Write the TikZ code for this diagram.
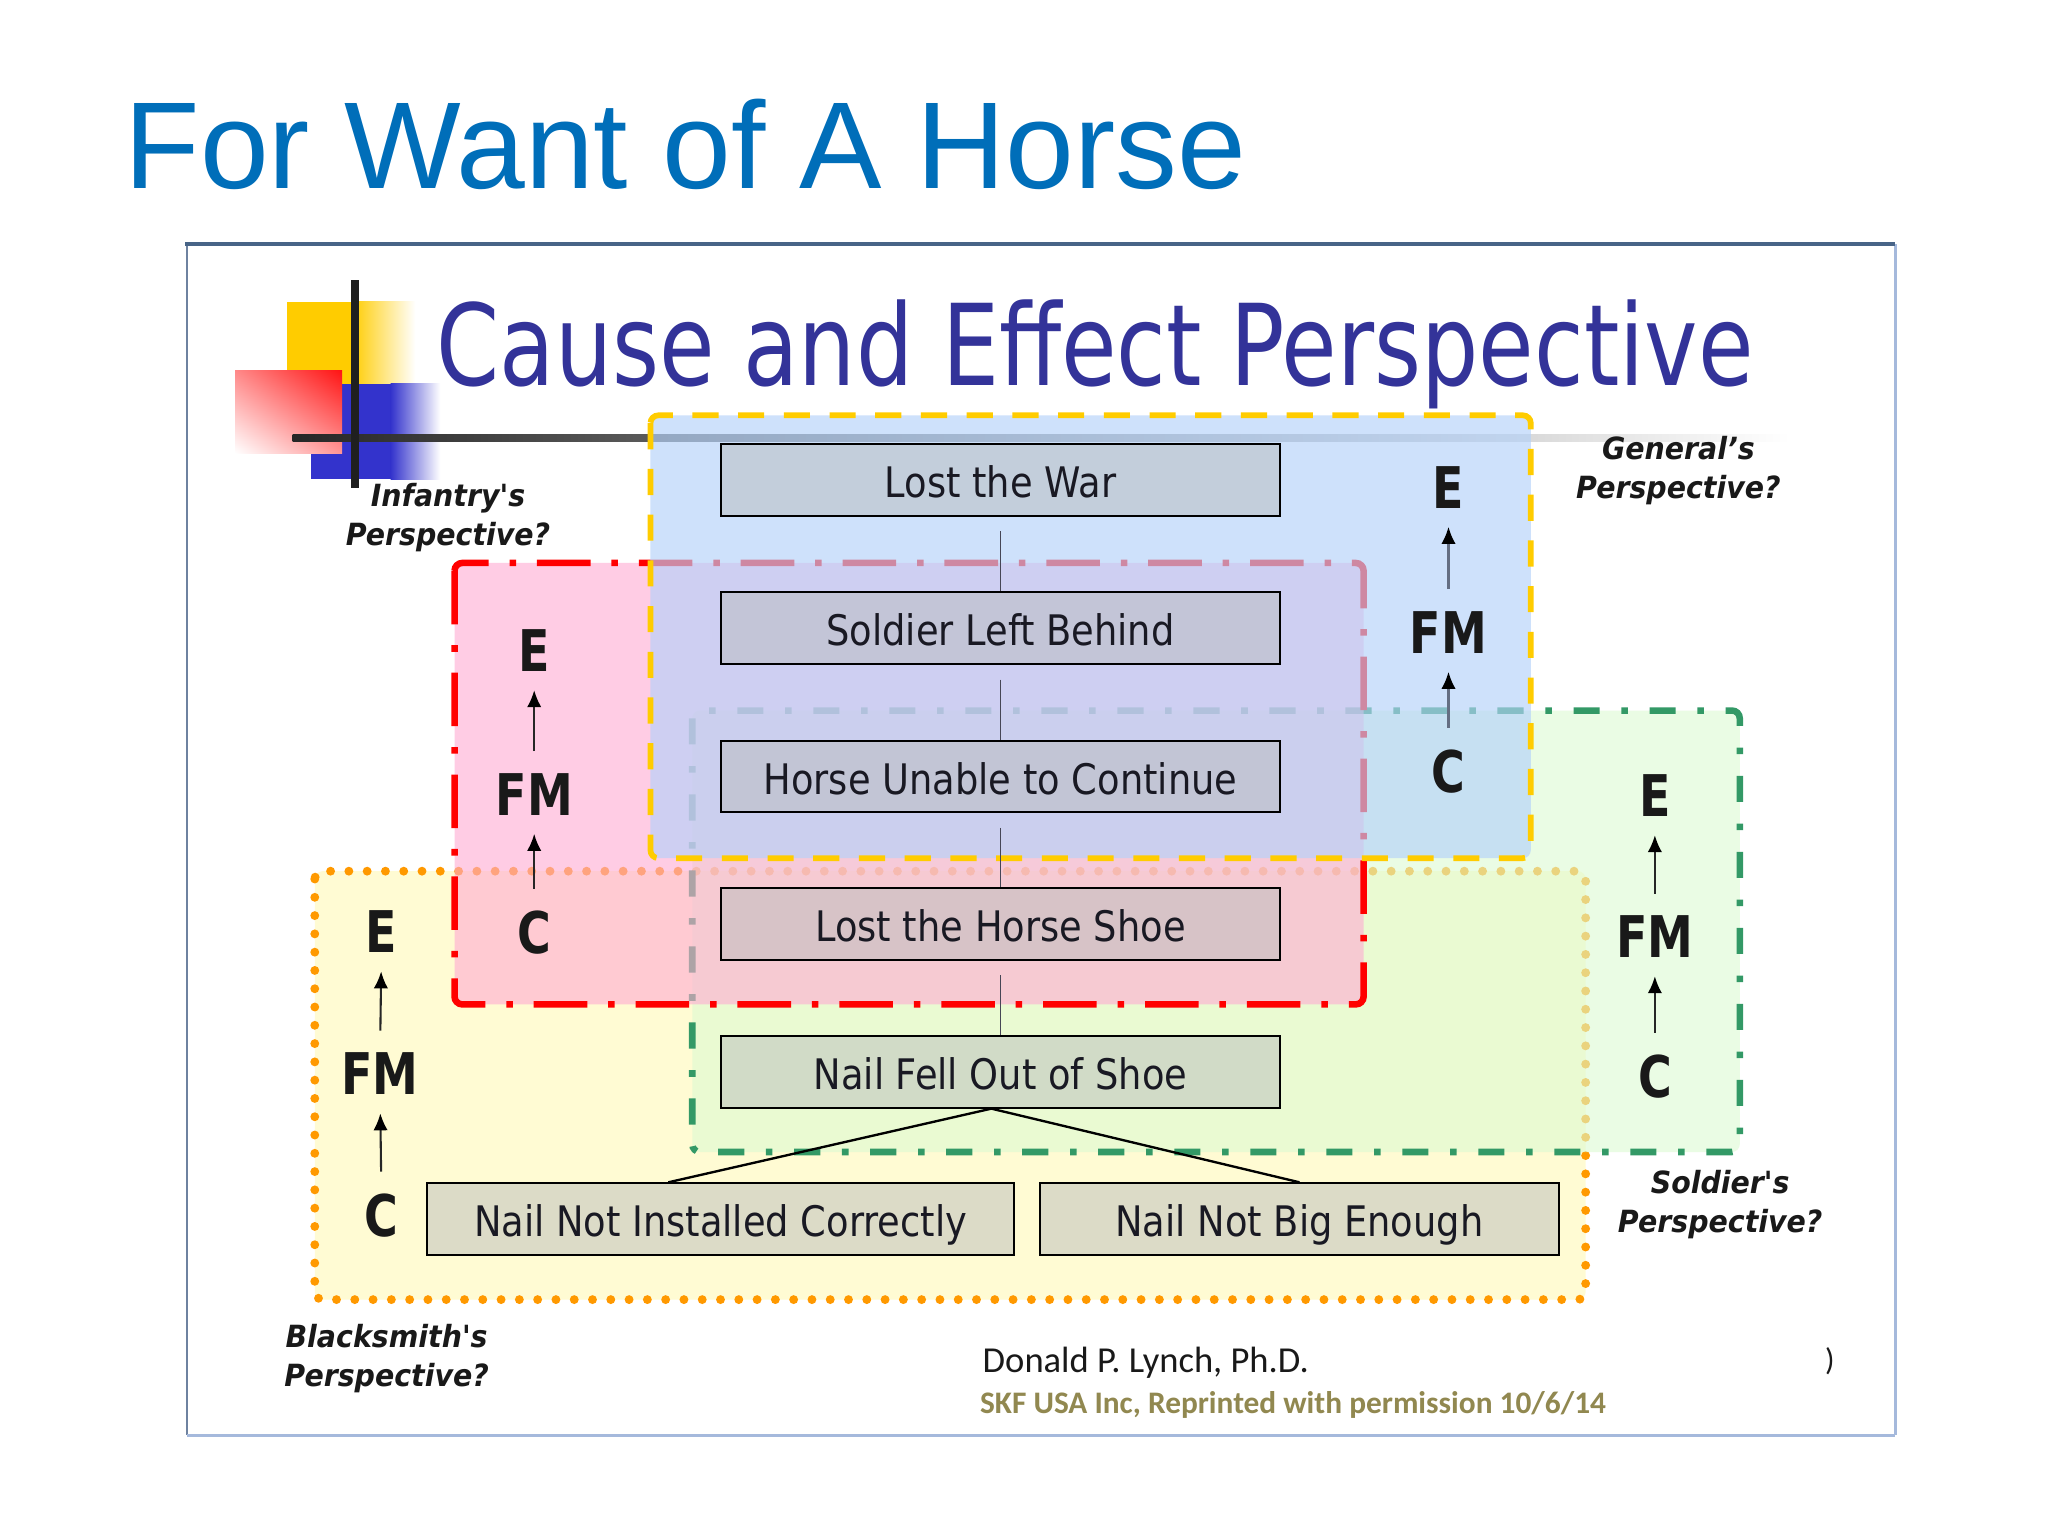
\documentclass[tikz,border=0pt]{standalone}
\usepackage{fontspec}
\usetikzlibrary{arrows.meta,calc,shadings}
\newfontfamily\titlefont{Liberation Sans}
\newfontfamily\subfont[FakeStretch=0.80]{DejaVu Sans}
\newfontfamily\boxfont[FakeStretch=0.875]{DejaVu Sans}
\newfontfamily\letfont[FakeStretch=0.80]{DejaVu Sans}
\newfontfamily\perfont[Ligatures=TeXOff,FakeStretch=0.93]{DejaVu Sans}
\newfontfamily\calfont{Carlito}
\definecolor{titleblue}{RGB}{0,110,185}
\definecolor{subblue}{RGB}{51,51,153}
\definecolor{logoY}{RGB}{255,204,0}
\definecolor{logoR}{RGB}{255,20,20}
\definecolor{logoB}{RGB}{51,51,204}
\definecolor{regYb}{RGB}{255,204,0}
\definecolor{regYf}{RGB}{180,210,250}
\definecolor{regRb}{RGB}{255,0,0}
\definecolor{regRf}{RGB}{255,170,210}
\definecolor{regGb}{RGB}{51,153,102}
\definecolor{regGf}{RGB}{220,250,210}
\definecolor{regOb}{RGB}{255,153,0}
\definecolor{regOf}{RGB}{255,250,200}
\definecolor{boxgrey}{RGB}{186,189,189}
\definecolor{boxtext}{RGB}{25,25,35}
\definecolor{linkc}{RGB}{70,70,85}
\definecolor{genarrow}{RGB}{100,110,130}
\definecolor{frametop}{RGB}{72,100,135}
\definecolor{frameleft}{RGB}{110,130,160}
\definecolor{frameside}{RGB}{165,185,220}
\definecolor{olive}{RGB}{145,136,80}
\tikzset{
  cebox/.style={draw=black, line width=0.8pt, fill=boxgrey, fill opacity=0.5, text opacity=1,
    minimum width=214pt, minimum height=27.5pt, inner sep=0pt, text height=16pt, text depth=2.5pt,
    font=\boxfont\fontsize{16.1pt}{18pt}\selectfont, text=boxtext},
  letter/.style={inner sep=0pt, anchor=base, font=\letfont\bfseries\fontsize{22pt}{24pt}\selectfont, text=black!90},
  efarrow/.style={-{Latex[length=6.5pt,width=5.5pt,color=black]}, draw=black!85, line width=0.8pt,
    shorten >=7pt, shorten <=8.2pt},
  genefarrow/.style={efarrow, draw=genarrow},
  link/.style={draw=linkc, line width=0.6pt, shorten <=5.5pt},
  diag/.style={draw=black, line width=0.9pt},
  persp/.style={align=center, inner sep=0pt, font=\perfont\bfseries\itshape\fontsize{11.7pt}{15pt}\selectfont, text=black!90},
  region/.style={rounded corners=3pt}
}
\begin{document}
\begin{tikzpicture}[x=0.5pt,y=-0.5pt]
\useasboundingbox (0,0) rectangle (1568,1176);
\fill[white] (0,0) rectangle (1568,1176);

% logo
\fill[logoY] (220,231) rectangle (270,295);
\shade[left color=logoY, right color=white] (269,231) rectangle (318,295);
\fill[logoB] (238,294) rectangle (300,367);
\shade[left color=logoB, right color=white] (299,294) rectangle (337,367);
\shade[upper right=logoR, upper left=logoR!50, lower right=logoR!45, lower left=white] (180,284) rectangle (262,347);
\shade[left color=black!85, middle color=black!40, right color=white] (224,332.8) rectangle (1370,338.3);
\fill[black!88] (269,214) rectangle (275,374);

% perspective regions (bottom to top)
\path[region, draw=regOb, line width=3.4pt, line cap=round, dash pattern=on 0pt off 7pt,
  fill=regOf, fill opacity=0.8] (241,667) rectangle (1214,995);
\path[region, draw=regGb, line width=2.5pt, dash pattern=on 10pt off 8.3pt on 2.5pt off 8.3pt,
  fill=regGf, fill opacity=0.6] (530,544) rectangle (1332,882);
\path[region, draw=regRb, line width=2.5pt, dash pattern=on 20.5pt off 8pt on 2.5pt off 8pt,
  fill=regRf, fill opacity=0.6] (348,431) rectangle (1044,769);
\path[region, draw=regYb, line width=2.2pt, dash pattern=on 10pt off 7.5pt,
  fill=regYf, fill opacity=0.65] (498,318) rectangle (1172,657);

% boxes
\node[cebox] (lw)  at (766,367.5) {Lost the War};
\node[cebox] (slb) at (766,481) {Soldier Left Behind};
\node[cebox] (hu)  at (766,594.5) {Horse Unable to Continue};
\node[cebox] (lhs) at (766,707.5) {Lost the Horse Shoe};
\node[cebox] (nfo) at (766,820.5) {Nail Fell Out of Shoe};
\node[cebox, minimum width=224.5pt] (nni) at (551.7,933.5) {Nail Not Installed Correctly};
\node[cebox, minimum width=199pt] (nbe) at (994.9,933.5) {Nail Not Big Enough};

% connectors
\draw[link] (lw.south) -- (slb.north);
\draw[link] (slb.south) -- (hu.north);
\draw[link] (hu.south) -- (lhs.north);
\draw[link] (lhs.south) -- (nfo.north);
\draw[diag] ([xshift=-3.5pt]nfo.south) -- ([xshift=-20pt]nni.north);
\draw[diag] ([xshift=-3.5pt]nfo.south) -- (nbe.north);

% General column
\node[letter] (gE)  at (1109,389) {E};
\node[letter] (gFM) at (1109,500) {FM};
\node[letter] (gC)  at (1109,606.5) {C};
\draw[genefarrow] (gFM.north) -- (gE.south);
\draw[genefarrow] (gC.north) -- (gFM.south);
% Infantry column
\node[letter] (iE)  at (409,514) {E};
\node[letter] (iFM) at (409,624) {FM};
\node[letter] (iC)  at (409,730) {C};
\draw[efarrow] (iFM.north) -- (iE.south);
\draw[efarrow] (iC.north) -- (iFM.south);
% Blacksmith column
\node[letter] (bE)  at (292,729.3) {E};
\node[letter] (bFM) at (291,838) {FM};
\node[letter] (bC)  at (292,946.5) {C};
\draw[efarrow] (bFM.north) -- (bE.south);
\draw[efarrow] (bC.north) -- (bFM.south);
% Soldier column
\node[letter] (sE)  at (1267,625) {E};
\node[letter] (sFM) at (1267,733) {FM};
\node[letter] (sC)  at (1267,840) {C};
\draw[efarrow] (sFM.north) -- (sE.south);
\draw[efarrow] (sC.north) -- (sFM.south);

% perspective labels
\node[persp] (pinf) at (343,396.5) {Infantry's\\Perspective?};
\node[persp] (pgen) at (1285,360.5) {General’s\\Perspective?};
\node[persp] (psol) at (1317,922.2) {Soldier's\\Perspective?};
\node[persp] (pbla) at (296,1040.3) {Blacksmith's\\Perspective?};

% frame
\draw[frameleft, line width=0.8pt] (143,187) -- (143,1099);
\draw[frameside, line width=1.2pt] (1451,187) -- (1451,1099);
\draw[frameside, line width=1.2pt] (143,1099) -- (1451,1099);
\draw[frametop, line width=1.6pt] (142,187) -- (1451,187);

% titles
\node[anchor=base west, inner sep=0pt, font=\titlefont\fontsize{47.3pt}{50pt}\selectfont, text=titleblue]
  (title) at (95,144) {For Want of A Horse};
\node[anchor=base west, inner sep=0pt, font=\subfont\fontsize{43.2pt}{46pt}\selectfont, text=subblue]
  (sub) at (334,295) {Cause and Effect Perspective};

% footer
\node[anchor=base west, inner sep=0pt, font=\calfont\fontsize{14pt}{16pt}\selectfont, text=black!90]
  (auth) at (752,1051) {Donald P. Lynch, Ph.D.};
\node[anchor=base west, inner sep=0pt, font=\calfont\bfseries\fontsize{12pt}{14pt}\selectfont, text=olive]
  (skf) at (750,1082) {SKF USA Inc, Reprinted with permission 10/6/14};
\node[anchor=base west, inner sep=0pt, font=\calfont\fontsize{12pt}{14pt}\selectfont, text=black!90]
  (paren) at (1397,1049.5) {)};
\end{tikzpicture}
\end{document}
